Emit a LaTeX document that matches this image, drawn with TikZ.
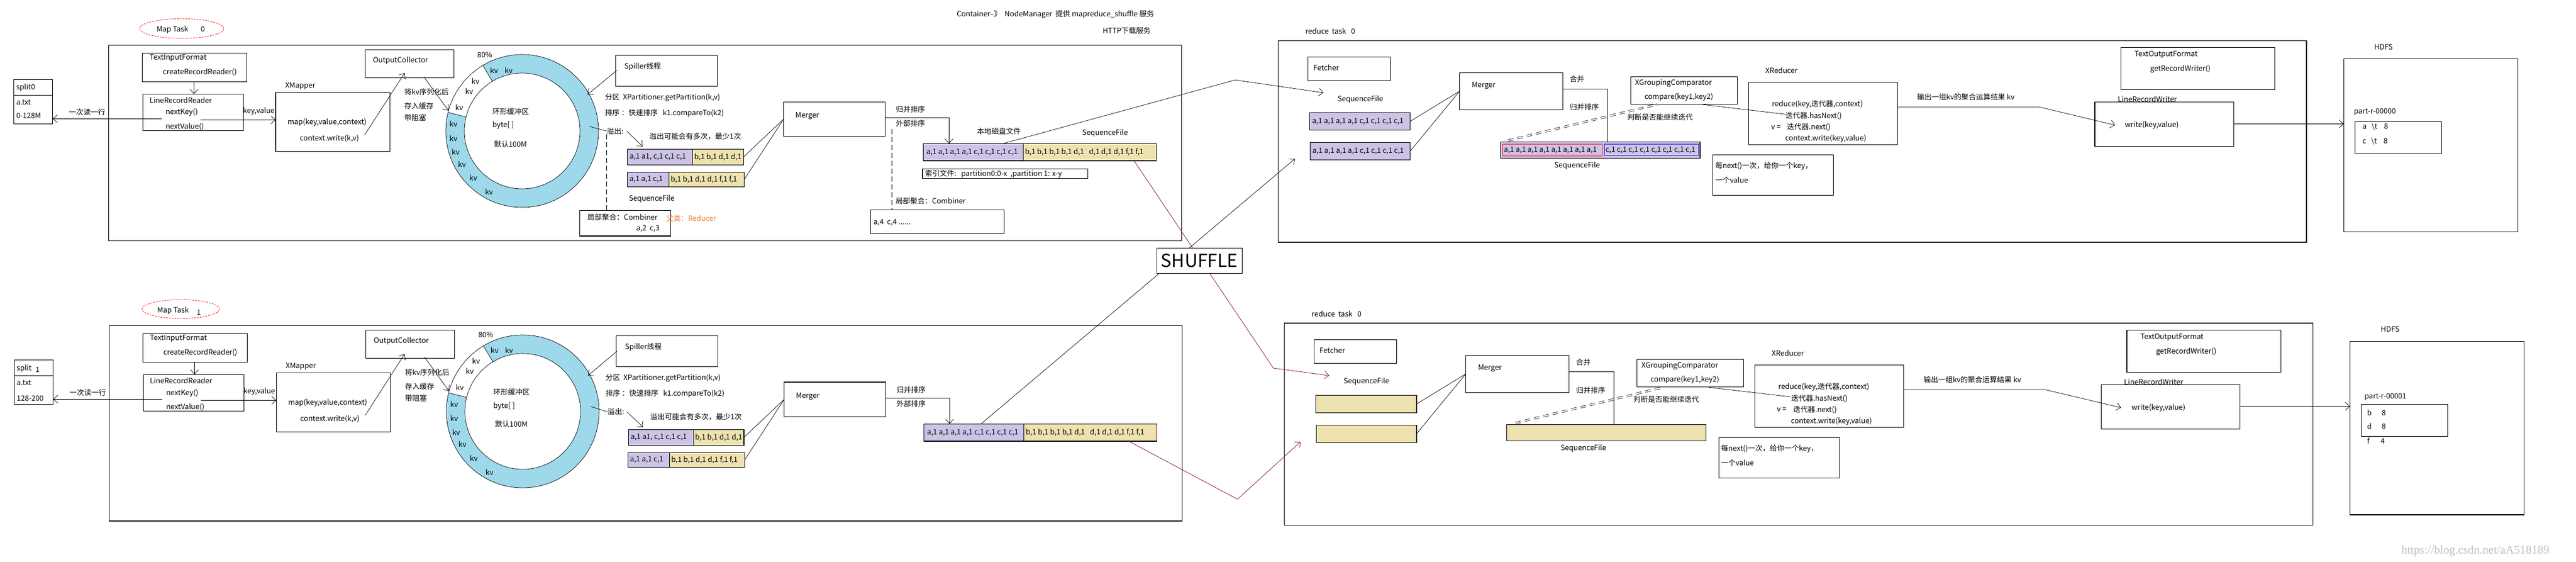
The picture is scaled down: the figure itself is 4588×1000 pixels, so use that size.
\documentclass[tikz,border=0pt]{standalone}
\usepackage{fontspec}
\setmainfont{Noto Sans CJK SC}
\newfontfamily\wmfont{Liberation Serif}
\usetikzlibrary{arrows.meta,calc,shapes.geometric}
\definecolor{ringblue}{RGB}{157,217,234}
\definecolor{lav}{RGB}{204,195,230}
\definecolor{wheat}{RGB}{238,226,176}
\definecolor{maroon}{RGB}{128,0,40}
\definecolor{orng}{RGB}{237,125,49}
\newcommand\rbox[6][]{\node[boxst,#1,anchor=north west,minimum width={(#5-#3)*1pt},minimum height={(#6-#4)*1pt}] (#2) at (#3,#4) {};}
\newcommand\ringbuf[1]{%
 \fill[ringblue,even odd rule] (#1) circle[radius=136] (#1) circle[radius=103];
 \fill[white] (#1) -- ($(#1)+(-166:136)$) arc[start angle=-166,end angle=-121,radius=136] -- cycle;
 \fill[white] (#1) circle[radius=103];
 \draw[line width=0.7pt] (#1) circle[radius=136] (#1) circle[radius=103];
 \draw[line width=0.7pt] ($(#1)+(-166:103)$) -- ($(#1)+(-166:136)$) ($(#1)+(-121:103)$) -- ($(#1)+(-121:136)$);}
\begin{document}
\begin{tikzpicture}[x=1pt,y=-1pt,
  every node/.style={font=\fontsize{13}{15}\selectfont},
  boxst/.style={draw,line width=1.1pt,inner sep=0pt,outer sep=0pt},
  tl/.style={anchor=west,inner sep=0pt,outer sep=0pt},
  tm/.style={anchor=center,inner sep=0pt,outer sep=0pt},
  ln/.style={line width=0.7pt},
  arr/.style={line width=0.7pt,-{Straight Barb[length=8pt,width=14pt,line width=0.7pt]}},
  marr/.style={arr,draw=maroon},
  ddash/.style={double,double distance=2.2pt,line width=0.7pt,dash pattern=on 10pt off 7pt},
  vdash/.style={line width=0.8pt,dash pattern=on 9pt off 5pt},
  ellip/.style={draw=red,ellipse,dash pattern=on 3pt off 2pt,line width=0.8pt,inner sep=0pt}]
\fill[white] (0,0) rectangle (4588,1000);
\useasboundingbox (0,0) rectangle (4588,1000);

% ---------------- header
\node[tl] (hdr1) at (1704,25.7) {Container--》\ \ NodeManager\ \ 提供 mapreduce\_shuffle 服务};
\node[tl] (hdr2) at (1964,54.3) {HTTP下载服务};

% ================= MAP TASK 0 =================
\node[ellip,minimum width=150pt,minimum height=35pt] (mt0) at (323.7,50.8) {};
\node[tl] (mt0a) at (279,53) {Map Task};
\node[tl] (mt0b) at (357.6,52) {0};
\rbox{map0}{193.3}{80.3}{2104.6}{428.3}
\rbox{tif0}{253.6}{94.3}{439.7}{145.3}
\node[tl] (tif0a) at (266.5,103.3) {TextInputFormat};
\node[tl] (tif0b) at (290.2,128.3) {createRecordReader()};
\rbox{lrr0}{254.5}{167.3}{433.5}{232.3}
\node[tl] (lrr0a) at (266.5,178.3) {LineRecordReader};
\node[tl] (lrr0b) at (295,200) {nextKey()};
\node[tl] (lrr0c) at (295,225.3) {nextValue()};
\coordinate (tif0o) at (345.5,145.3);
\draw[arr] (tif0o) -- (tif0o |- lrr0.north);
\rbox{sp0}{24.6}{141.3}{93.8}{220.3}
\draw[ln] (24.6,169.3) -- (93.8,169.3);
\node[tl] (sp0a) at (29,156) {split0};
\node[tl] (sp0b) at (29,181.7) {a.txt};
\node[tl] (sp0c) at (29,206) {0-128M};
\coordinate (rd0) at (287.5,211.3);
\draw[arr] (rd0) -- (rd0 -| sp0.east);
\node[tm] (rd0l) at (155,200) {一次读一行};
\rbox{xm0}{491}{164.3}{694.6}{269.3}
\coordinate (kv0) at (357,213.3);
\draw[arr] (kv0) -- (kv0 -| xm0.west);
\node[tm] (kv0l) at (461,197.7) {key,value};
\node[tl] (xm0l) at (508,153.7) {XMapper};
\node[tm] (xm0a) at (582.4,217.3) {map(key,value,context)};
\node[tm] (xm0b) at (586.7,246.7) {context.write(k,v)};
\rbox{oc0}{650.4}{88.3}{808.5}{138.3}
\node[tl] (oc0a) at (664.3,108.3) {OutputCollector};
\coordinate (cw0) at (649.6,240);
\coordinate (oc0i) at (720.5,130);
\draw[arr] (cw0) -- (oc0i);
\coordinate (oc0o) at (754.9,136.7);
\coordinate (rg0i) at (798.7,196.7);
\node[tl] (sr0a) at (720.1,163.3) {将kv序列化后};
\node[tl] (sr0b) at (720.1,188.3) {存入缓存};
\node[tl] (sr0c) at (720.1,209.3) {带阻塞};
\coordinate (rc0) at (930,233);
\ringbuf{rc0}
\draw[arr] (oc0o) -- (rg0i);
\node[tm] (r0p) at (863.4,97.3) {80\%};
\foreach \x/\y [count=\i] in {879.9/125,905.8/125,846.9/144,835.7/162.3,817.9/191,807.6/220.7,807.6/246,811.6/270.7,822.8/292,842.9/316.7,871/341.7}
  \node[tm] (kvt\i) at (\x,\y) {kv};
\node[tl] (rb0a) at (877,198.3) {环形缓冲区};
\node[tl] (rb0b) at (877,223.3) {byte[ ]};
\node[tl] (rb0c) at (880,256.7) {默认100M};
\rbox{spl0}{1096.4}{98.3}{1277.2}{153.3}
\node[tl] (spl0a) at (1112,118.3) {Spiller线程};
\coordinate (spl0o) at (1098.7,125);
\coordinate (rg0s) at (1046.4,168.3);
\draw[arr] (spl0o) -- (rg0s);
\node[tl] (pt0) at (1077.7,174) {分区\ \ XPartitioner.getPartition(k,v)};
\node[tl] (so0) at (1077.7,201) {排序 ：快速排序\ \ \ k1.compareTo(k2)};
\node[tl] (yc0) at (1080.8,233.3) {溢出:};
\coordinate (rg0o) at (1049.6,225);
\draw[ln] (rg0o) -- (yc0.west);
\coordinate (yc0o) at (1116.5,233.3);
\coordinate (sf0i) at (1144.6,260.7);
\draw[arr] (yc0o) -- (sf0i);
\node[tl] (ym0) at (1156.7,242.7) {溢出可能会有多次，最少1次};
\rbox[fill=lav]{sf0a}{1117.9}{265.7}{1233.9}{293.3}
\rbox[fill=wheat]{sf0b}{1233.9}{265.7}{1324.1}{293.3}
\node[tl] (sf0at) at (1121.5,279.5) {a,1 a1, c,1 c,1 c,1};
\node[tl] (sf0bt) at (1236.5,279.5) {b,1 b,1 d,1 d,1};
\rbox[fill=lav]{sf0c}{1117.4}{306.7}{1191.5}{332.3}
\rbox[fill=wheat]{sf0d}{1191.5}{306.7}{1325.4}{332.3}
\node[tl] (sf0ct) at (1121,319.5) {a,1 a,1 c,1};
\node[tl] (sf0dt) at (1194.5,319.5) {b,1 b,1 d,1 d,1 f,1 f,1};
\node[tm] (sq0) at (1160.6,354.3) {SequenceFile};
\rbox{cb0}{1032.6}{374.3}{1194.6}{420}
\node[tm] (cb0a) at (1108.7,386.7) {局部聚合：Combiner};
\node[tm] (cb0b) at (1154,406.7) {a,2\ \ c,3};
\node[tm,text=orng] (cb0c) at (1231,388.3) {父类：Reducer};
\draw[vdash] (yc0.south west) -- (yc0.south west |- cb0.north);
\rbox{mg0}{1395.7}{181.3}{1576.5}{242.3}
\node[tl] (mg0a) at (1416.7,206.7) {Merger};
\draw[ln] (sf0b.east) -- (mg0.west);
\draw[ln] (sf0d.east) -- (mg0.west);
\node[tl] (mg0b) at (1595.6,194.3) {归并排序};
\node[tl] (mg0c) at (1595.6,219.3) {外部排序};
\rbox[fill=lav]{bf0a}{1644.4}{255.7}{1822.3}{286}
\rbox[fill=wheat]{bf0b}{1822.3}{255.7}{2059.7}{286}
\node[tl] (bf0at) at (1650,270.9) {a,1 a,1 a,1 a,1 c,1 c,1 c,1 c,1};
\node[tl] (bf0bt) at (1825.5,270.9) {b,1 b,1 b,1 b,1 d,1\ \ \ d,1 d,1 d,1 f,1 f,1};
\coordinate (mg0o) at (1576.5,209.3);
\coordinate (bf0i) at (1690.3,255.7);
\draw[arr] (mg0o) -| (bf0i);
\draw[vdash] (1588.4,230) -- (1588.4,373.3);
\node[tl] (ld0) at (1740,233.3) {本地磁盘文件};
\node[tl] (sq0b) at (1927.5,236.7) {SequenceFile};
\rbox{idx0}{1643}{300.7}{1937.6}{317.3}
\node[tl] (idx0a) at (1647.7,309.3) {索引文件:\ \ \ partition0:0-x\ \ ,partition 1: x-y};
\node[tl] (cb0d) at (1595,357.3) {局部聚合：Combiner};
\rbox{cb1}{1550.6}{373.3}{1788.8}{415.3}
\node[tl] (cb1a) at (1555.9,396) {a,4\ \ c,4 ......};

% ================= MAP TASK 1 =================
\node[ellip,minimum width=138pt,minimum height=33.4pt] (mt1) at (322,550) {};
\node[tl] (mt1a) at (280,553.3) {Map Task};
\node[tl] (mt1b) at (350.4,556) {1};
\rbox{map1}{194.6}{579.3}{2105.6}{927}
\rbox{tif1}{254.5}{593.3}{440.6}{644.3}
\node[tl] (tif1a) at (267,602.7) {TextInputFormat};
\node[tl] (tif1b) at (291,627.7) {createRecordReader()};
\rbox{lrr1}{255.4}{666.3}{434.4}{731.3}
\node[tl] (lrr1a) at (267,677.7) {LineRecordReader};
\node[tl] (lrr1b) at (296,699.3) {nextKey()};
\node[tl] (lrr1c) at (296,724.3) {nextValue()};
\coordinate (tif1o) at (346.4,644.3);
\draw[arr] (tif1o) -- (tif1o |- lrr1.north);
\rbox{sp1}{25.4}{640.3}{94.6}{719.3}
\draw[ln] (25.4,668.7) -- (94.6,668.7);
\node[tl] (sp1a) at (29.9,655.7) {split};
\node[tl] (sp1n) at (63,658.3) {1};
\node[tl] (sp1b) at (29.9,680.7) {a.txt};
\node[tl] (sp1c) at (29.9,709) {128-200};
\coordinate (rd1) at (288.8,710.3);
\draw[arr] (rd1) -- (rd1 -| sp1.east);
\node[tm] (rd1l) at (156.3,698.3) {一次读一行};
\rbox{xm1}{492.4}{663.3}{695.5}{768.3}
\coordinate (kv1) at (358,712.3);
\draw[arr] (kv1) -- (kv1 -| xm1.west);
\node[tm] (kv1l) at (461.8,696.7) {key,value};
\node[tl] (xm1l) at (508.9,652.3) {XMapper};
\node[tm] (xm1a) at (583.7,716.7) {map(key,value,context)};
\node[tm] (xm1b) at (587.5,745.3) {context.write(k,v)};
\rbox{oc1}{651.8}{587.3}{809.4}{637.3}
\node[tl] (oc1a) at (665.6,607.3) {OutputCollector};
\coordinate (cw1) at (650.4,739.3);
\coordinate (oc1i) at (720.5,630);
\draw[arr] (cw1) -- (oc1i);
\coordinate (oc1o) at (755.8,635);
\coordinate (rg1i) at (799.6,695.7);
\node[tl] (sr1a) at (721.4,662.3) {将kv序列化后};
\node[tl] (sr1b) at (721.4,687.3) {存入缓存};
\node[tl] (sr1c) at (721.4,708.3) {带阻塞};
\coordinate (rc1) at (931,732);
\ringbuf{rc1}
\draw[arr] (oc1o) -- (rg1i);
\node[tm] (r1p) at (865.2,596) {80\%};
\foreach \x/\y [count=\i] in {880.8/623.3,906.7/623.3,847.8/642.3,836.6/660.7,818.8/689.3,808.9/719.3,808.9/744.7,812.5/769.3,823.7/790.7,843.8/815.7,871.9/840.7}
  \node[tm] (kvb\i) at (\x,\y) {kv};
\node[tl] (rb1a) at (878.6,697.3) {环形缓冲区};
\node[tl] (rb1b) at (878.6,722.7) {byte[ ]};
\node[tl] (rb1c) at (881.5,755) {默认100M};
\rbox{spl1}{1097.3}{597.3}{1278.6}{652.3}
\node[tl] (spl1a) at (1113.4,617.3) {Spiller线程};
\coordinate (spl1o) at (1098.7,625);
\coordinate (rg1s) at (1047.3,668.3);
\draw[arr] (spl1o) -- (rg1s);
\node[tl] (pt1) at (1078.6,672.7) {分区\ \ XPartitioner.getPartition(k,v)};
\node[tl] (so1) at (1078.6,700) {排序 ：快速排序\ \ \ k1.compareTo(k2)};
\node[tl] (yc1) at (1082.1,732.7) {溢出:};
\coordinate (rg1o) at (1051.8,723.3);
\draw[ln] (rg1o) -- (yc1.west);
\coordinate (yc1o) at (1116.5,732.7);
\coordinate (sf1i) at (1145.5,760);
\draw[arr] (yc1o) -- (sf1i);
\node[tl] (ym1) at (1158,741.7) {溢出可能会有多次，最少1次};
\rbox[fill=lav]{sf1a}{1119.6}{764.3}{1235.3}{792.3}
\rbox[fill=wheat]{sf1b}{1235.3}{764.3}{1325}{792.3}
\node[tl] (sf1at) at (1123,778.3) {a,1 a1, c,1 c,1 c,1};
\node[tl] (sf1bt) at (1238,778.3) {b,1 b,1 d,1 d,1};
\rbox[fill=lav]{sf1c}{1118.3}{805.3}{1192.4}{831.3}
\rbox[fill=wheat]{sf1d}{1192.4}{805.3}{1326.3}{831.3}
\node[tl] (sf1ct) at (1122,818.3) {a,1 a,1 c,1};
\node[tl] (sf1dt) at (1195.5,818.3) {b,1 b,1 d,1 d,1 f,1 f,1};
\rbox{mg1}{1396.6}{680}{1577.4}{741.3}
\node[tl] (mg1a) at (1417.7,705.7) {Merger};
\draw[ln] (sf1b.east) -- (mg1.west);
\draw[ln] (sf1d.east) -- (mg1.west);
\node[tl] (mg1b) at (1596.5,693.3) {归并排序};
\node[tl] (mg1c) at (1596.5,718.3) {外部排序};
\rbox[fill=lav]{bf1a}{1645.3}{754.3}{1823.7}{785}
\rbox[fill=wheat]{bf1b}{1823.7}{754.3}{2060.2}{785}
\node[tl] (bf1at) at (1651,769.7) {a,1 a,1 a,1 a,1 c,1 c,1 c,1 c,1};
\node[tl] (bf1bt) at (1827,769.7) {b,1 b,1 b,1 b,1 d,1\ \ \ d,1 d,1 d,1 f,1 f,1};
\coordinate (mg1o) at (1577.4,708);
\coordinate (bf1i) at (1691.3,754.3);
\draw[arr] (mg1o) -| (bf1i);

% ================= REDUCE TASK (top) =================
\node[tl] (rt0) at (2325,55.3) {reduce\ \ task\ \ \ 0};
\rbox{rd0b}{2276.5}{72.3}{4107.9}{431}
\rbox{ft0}{2329.6}{101.3}{2476.5}{143.3}
\node[tl] (ft0a) at (2339.3,120) {Fetcher};
\node[tm] (sq2) at (2423,176.7) {SequenceFile};
\rbox[fill=lav]{rf0a}{2332.7}{200.3}{2511.7}{231.3}
\rbox[fill=lav]{rf0b}{2333.7}{253.3}{2511.7}{284.3}
\node[tl] (rf0at) at (2337,215.8) {a,1 a,1 a,1 a,1 c,1 c,1 c,1 c,1};
\node[tl] (rf0bt) at (2337.5,268.8) {a,1 a,1 a,1 a,1 c,1 c,1 c,1 c,1};
\rbox{rm0}{2599.5}{129.3}{2783.2}{195.3}
\node[tl] (rm0a) at (2621.4,152.7) {Merger};
\draw[ln] (rf0a.east) -- (rm0.west);
\draw[ln] (rf0b.east) -- (rm0.west);
\node[tl] (rm0b) at (2795.9,141) {合并};
\node[tl] (rm0c) at (2795.9,191) {归并排序};
\rbox[fill=lav]{mf0}{2672.4}{252.3}{3028}{281.7}
\rbox[draw=red,line width=0.8pt]{mf0a}{2676}{256}{2853.6}{277.3}
\rbox[draw=blue,line width=0.8pt]{mf0b}{2857.1}{256.7}{3025.5}{276.7}
\node[tl] (mf0at) at (2678.5,266.7) {a,1 a,1 a,1 a,1 a,1 a,1 a,1 a,1};
\node[tl] (mf0bt) at (2859.5,266.7) {c,1 c,1 c,1 c,1 c,1 c,1 c,1 c,1};
\coordinate (rm0o) at (2783.2,158.3);
\coordinate (mf0i) at (2863.3,252.3);
\draw[ln] (rm0o) -| (mf0i);
\node[tm] (sq3) at (2809,295.3) {SequenceFile};
\rbox{xg0}{2904.6}{136.3}{3094.4}{185.3}
\node[tl] (xg0a) at (2912.2,147.7) {XGroupingComparator};
\node[tl] (xg0b) at (2929,172.7) {compare(key1,key2)};
\coordinate (mf0d) at (2686,250);
\coordinate (xg0d) at (2951.5,185.7);
\draw[ddash] (mf0d) -- (xg0d);
\node[tl] (jd0) at (2898,208.3) {判断是否能继续迭代};
\node[tl] (xr0l) at (3144.4,125.7) {XReducer};
\rbox{xr0}{3114.3}{146.3}{3379.6}{257.3}
\node[tl] (xr0a) at (3156.1,185.7) {reduce(key,迭代器,context)};
\node[tl] (xr0b) at (3180.1,206.7) {迭代器.hasNext()};
\node[tl] (xr0c) at (3154.6,226.7) {v =};
\node[tl] (xr0d) at (3182.7,226.7) {迭代器.next()};
\node[tl] (xr0e) at (3179.6,246.7) {context.write(key,value)};
\coordinate (xg0o) at (3032.1,186);
\coordinate (xr0i) at (3179.6,203.3);
\draw[ln] (xg0o) -- (xr0i);
\rbox{nt0}{3050.5}{275.3}{3265.3}{347.3}
\node[tl] (nt0a) at (3055,295.7) {每next()一次，给你一个key，};
\node[tl] (nt0b) at (3055,320.7) {一个value};
\node[tl] (out0) at (3414.3,172.3) {输出一组kv的聚合运算结果 kv};
\rbox{tof0}{3777.6}{84.3}{4051.6}{159.3}
\node[tl] (tof0a) at (3801.8,97.3) {TextOutputFormat};
\node[tl] (tof0b) at (3829.6,122.7) {getRecordWriter()};
\node[tl] (lrw0l) at (3772,176) {LineRecordWriter};
\rbox{lrw0}{3731}{181.3}{3978}{260.3}
\node[tl] (lrw0a) at (3784.5,222.7) {write(key,value)};
\coordinate (xr0o) at (3379.6,190.3);
\coordinate (xr0k) at (3631.8,190.3);
\coordinate (lrw0i) at (3767.2,222.7);
\draw[arr] (xr0o) -- (xr0k) -- (lrw0i);
\node[tl] (hd0l) at (4228.6,83.3) {HDFS};
\rbox{hd0}{4174.5}{104.3}{4484.6}{412.3}
\coordinate (lrw0o) at (3978,220.3);
\draw[arr] (lrw0o) -- (lrw0o -| hd0.west);
\node[tl] (pr0l) at (4192.5,199.3) {part-r-00000};
\rbox{pr0}{4194.6}{216.3}{4348.6}{273.3}
\node[tl] (pr0a) at (4207.8,225.7) {a\hspace{9pt}\textbackslash t\hspace{12pt}8};
\node[tl] (pr0b) at (4207.8,251.7) {c\hspace{9pt}\textbackslash t\hspace{12pt}8};

% ================= REDUCE TASK (bottom) =================
\node[tl] (rt1) at (2336.2,558.3) {reduce\ \ task\ \ \ 0};
\rbox{rd1b}{2287.2}{575}{4119}{934.6}
\rbox{ft1}{2340.3}{604.3}{2487.2}{646.7}
\node[tl] (ft1a) at (2350,623.3) {Fetcher};
\node[tm] (sq4) at (2433.7,679.3) {SequenceFile};
\rbox[fill=wheat]{rf1a}{2343.4}{703.3}{2523}{734.3}
\rbox[fill=wheat]{rf1b}{2344.4}{756.3}{2523}{787.3}
\rbox{rm1}{2610.7}{632.3}{2794.4}{698.3}
\node[tl] (rm1a) at (2632.7,655.7) {Merger};
\draw[ln] (rf1a.east) -- (rm1.west);
\draw[ln] (rf1b.east) -- (rm1.west);
\node[tl] (rm1b) at (2807.1,644.3) {合并};
\node[tl] (rm1c) at (2807.1,694.3) {归并排序};
\rbox[fill=wheat]{mf1}{2683.7}{755.7}{3038.3}{784.3}
\coordinate (rm1o) at (2794.4,661);
\coordinate (mf1i) at (2874.5,755.7);
\draw[ln] (rm1o) -| (mf1i);
\node[tm] (sq5) at (2820.2,798.3) {SequenceFile};
\rbox{xg1}{2915.3}{639.3}{3105.6}{688.3}
\node[tl] (xg1a) at (2923.5,650.7) {XGroupingComparator};
\node[tl] (xg1b) at (2939.8,675.7) {compare(key1,key2)};
\coordinate (mf1d) at (2699,752.7);
\coordinate (xg1d) at (2961.7,689.3);
\draw[ddash] (mf1d) -- (xg1d);
\node[tl] (jd1) at (2909.2,711) {判断是否能继续迭代};
\node[tl] (xr1l) at (3155.6,628.3) {XReducer};
\rbox{xr1}{3125.5}{649.3}{3390.3}{760.3}
\node[tl] (xr1a) at (3167.3,688.7) {reduce(key,迭代器,context)};
\node[tl] (xr1b) at (3190.3,709.3) {迭代器.hasNext()};
\node[tl] (xr1c) at (3164.8,729.3) {v =};
\node[tl] (xr1d) at (3193.9,729.3) {迭代器.next()};
\node[tl] (xr1e) at (3189.8,749.3) {context.write(key,value)};
\coordinate (xg1o) at (3043.4,689.3);
\coordinate (xr1i) at (3188.8,706);
\draw[ln] (xg1o) -- (xr1i);
\rbox{nt1}{3061.7}{778.3}{3276.5}{850.3}
\node[tl] (nt1a) at (3065.3,798.3) {每next()一次，给你一个key，};
\node[tl] (nt1b) at (3065.3,823.3) {一个value};
\node[tl] (out1) at (3426,675.7) {输出一组kv的聚合运算结果 kv};
\rbox{tof1}{3788}{587.5}{4062.1}{662.3}
\node[tl] (tof1a) at (3812.3,600.5) {TextOutputFormat};
\node[tl] (tof1b) at (3840,625.4) {getRecordWriter()};
\node[tl] (lrw1l) at (3783.1,679.1) {LineRecordWriter};
\rbox{lrw1}{3742.2}{684.4}{3989.2}{763.3}
\node[tl] (lrw1a) at (3796.3,725.4) {write(key,value)};
\coordinate (xr1o) at (3390.3,693.3);
\coordinate (xr1k) at (3642.3,693.3);
\coordinate (lrw1i) at (3777.6,725.4);
\draw[arr] (xr1o) -- (xr1k) -- (lrw1i);
\node[tl] (hd1l) at (4240.4,586.1) {HDFS};
\rbox{hd1}{4185.6}{607.5}{4495.1}{916}
\coordinate (lrw1o) at (3989.2,723);
\draw[arr] (lrw1o) -- (lrw1o -| hd1.west);
\node[tl] (pr1l) at (4211.3,706.1) {part-r-00001};
\rbox{pr1}{4205}{719.5}{4359.1}{776.3}
\node[tl] (pr1a) at (4216.1,734.2) {b\hspace{18pt}8};
\node[tl] (pr1b) at (4216.1,758.8) {d\hspace{18pt}8};
\node[tl] (pr1c) at (4216.1,784) {f\hspace{20pt}4};

% ================= SHUFFLE connectors =================
\coordinate (bf0top) at (1785.5,255.7);
\coordinate (bnd0) at (2200,142.3);
\coordinate (ft0i) at (2357.1,165);
\draw[arr] (bf0top) -- (bnd0) -- (ft0i);
\coordinate (bf1top) at (1747.2,754.3);
\coordinate (rf0i) at (2306.1,282.7);
\draw[arr] (bf1top) -- (rf0i);
\coordinate (bf0bot) at (2019.8,286);
\coordinate (bnd1) at (2267.9,655);
\coordinate (ft1i) at (2367.3,668.3);
\draw[marr] (bf0bot) -- (bnd1) -- (ft1i);
\coordinate (bf1bot) at (2010.3,785);
\coordinate (bnd2) at (2204,888.3);
\coordinate (rf1i) at (2316.3,786);
\draw[marr] (bf1bot) -- (bnd2) -- (rf1i);
\node[draw,fill=white,line width=1.1pt,inner sep=0pt,minimum width=152pt,minimum height=45pt,font=\fontsize{32}{36}\selectfont] (shuf) at (2136.2,464.2) {SHUFFLE};

% watermark
\node[tl,text=black!25,font=\wmfont\fontsize{21}{24}\selectfont] (wm) at (4277,980) {https://blog.csdn.net/aA518189};
\end{tikzpicture}
\end{document}
